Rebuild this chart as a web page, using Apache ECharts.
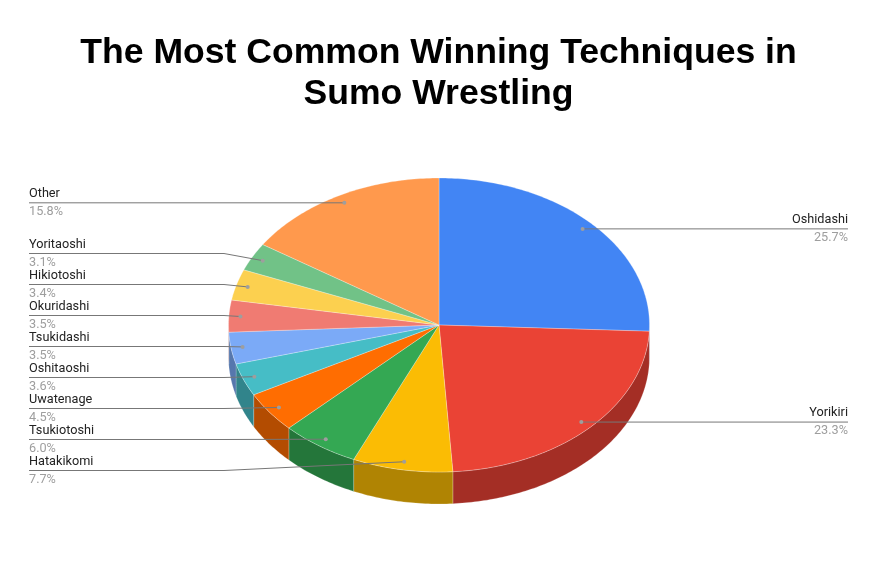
<!DOCTYPE html>
<html><head><meta charset="utf-8">
<script src="https://cdn.jsdelivr.net/npm/echarts@6/dist/echarts.min.js"></script>
<style>html,body{margin:0;padding:0;background:#fff}#c{width:877px;height:581px}</style>
</head><body><div id="c"></div>
<script>
const categories = ['Oshidashi','Yorikiri','Hatakikomi','Tsukiotoshi','Uwatenage','Oshitaoshi','Tsukidashi','Okuridashi','Hikiotoshi','Yoritaoshi','Other'];
const values = [25.7, 23.3, 7.7, 6.0, 4.5, 3.6, 3.5, 3.5, 3.4, 3.1, 15.8];
const colors = ['#4285F4','#EA4335','#FBBC04','#34A853','#FF6D01','#46BDC6','#7BAAF7','#F07B72','#FCD04F','#71C287','#FF994D'];
const sideColors = ['#2E5DAB','#A42E25','#B08403','#24763A','#B34C01','#31848B','#5677AD','#A8564F','#B09137','#4F885F','#B26B36'];
const titleText = 'The Most Common Winning Techniques in\nSumo Wrestling';

const CX = 439, CY = 325, RX = 210.5, RY = 147, DEPTH = 32, DOT_R = 0.945;
const LEFT_X = 29, RIGHT_X = 848, LEFT_ELBOW = 224, RIGHT_ELBOW = 654, GAP = 31;

function pt(theta, r, dy) {
  return [CX + r * RX * Math.sin(theta), CY - r * RY * Math.cos(theta) + (dy || 0)];
}
function arcPts(a0, a1, r, dy) {
  const n = Math.max(2, Math.ceil((a1 - a0) / 0.015));
  const out = [];
  for (let i = 0; i <= n; i++) out.push(pt(a0 + (a1 - a0) * i / n, r, dy));
  return out;
}

// geometry derived from the data
const total = values.reduce((a, b) => a + b, 0);
const slices = [];
let acc = 0;
values.forEach((v, i) => {
  const a0 = acc / total * Math.PI * 2;
  acc += v;
  const a1 = acc / total * Math.PI * 2;
  const mid = (a0 + a1) / 2;
  const dot = pt(mid, DOT_R, 0);
  slices.push({ i, a0, a1, dot, side: dot[0] < CX ? 'left' : 'right', pct: (v / total * 100).toFixed(1) + '%' });
});

// label spreading (clusters centred on their desired positions)
function spread(items) {
  items.sort((a, b) => a.dot[1] - b.dot[1]);
  let groups = items.map(it => ({ items: [it], start: it.dot[1] }));
  let changed = true;
  while (changed) {
    changed = false;
    for (let g = 0; g < groups.length - 1; g++) {
      const A = groups[g], B = groups[g + 1];
      if (A.start + A.items.length * GAP > B.start + 0.01) {
        const its = A.items.concat(B.items);
        const mean = its.reduce((s, it) => s + it.dot[1], 0) / its.length;
        groups.splice(g, 2, { items: its, start: mean - (its.length - 1) * GAP / 2 });
        changed = true;
        break;
      }
    }
  }
  groups.forEach(G => G.items.forEach((it, k) => { it.ly = G.start + k * GAP; }));
}
spread(slices.filter(s => s.side === 'left'));
spread(slices.filter(s => s.side === 'right'));

function renderItem(params, api) {
  const s = slices[params.dataIndex];
  const children = [];
  // side wall (front half only)
  const st = Math.max(s.a0, Math.PI / 2), en = Math.min(s.a1, Math.PI * 1.5);
  if (en > st) {
    const pts = arcPts(st, en, 1, 0).concat(arcPts(st, en, 1, DEPTH).reverse());
    children.push({ type: 'polygon', z2: 1, shape: { points: pts },
      style: { fill: sideColors[s.i], stroke: 'rgba(255,255,255,0.35)', lineWidth: 0.6 } });
  }
  // top face
  children.push({ type: 'polygon', z2: 5, shape: { points: [[CX, CY]].concat(arcPts(s.a0, s.a1, 1, 0)) },
    style: { fill: colors[s.i], stroke: 'rgba(255,255,255,0.45)', lineWidth: 0.6 } });
  // leader line
  const left = s.side === 'left';
  const tx = left ? LEFT_X : RIGHT_X;
  const ex = left ? LEFT_ELBOW : RIGHT_ELBOW;
  children.push({ type: 'polyline', z2: 10, shape: { points: [[tx, s.ly], [ex, s.ly], s.dot] },
    style: { stroke: '#777', lineWidth: 1, fill: null } });
  children.push({ type: 'circle', z2: 11, shape: { cx: s.dot[0], cy: s.dot[1], r: 2 },
    style: { fill: '#9e9e9e' } });
  children.push({ type: 'text', z2: 12, style: { x: tx, y: s.ly - 9, text: categories[s.i],
    fill: '#222', font: '12.7px Roboto', align: left ? 'left' : 'right', verticalAlign: 'middle' } });
  children.push({ type: 'text', z2: 12, style: { x: tx, y: s.ly + 9, text: s.pct,
    fill: '#9e9e9e', font: '12.7px Roboto', align: left ? 'left' : 'right', verticalAlign: 'middle' } });
  return { type: 'group', children };
}

const chart = echarts.init(document.getElementById('c'), null, { renderer: 'canvas' });
chart.setOption({
  backgroundColor: '#fff',
  animation: false,
  title: {
    text: titleText, left: 'center', top: 27,
    textStyle: { fontFamily: 'Liberation Sans', fontWeight: 'bold', fontSize: 35.6, lineHeight: 41.5, color: '#000' }
  },
  series: [{
    type: 'custom',
    coordinateSystem: 'none',
    renderItem,
    data: values.map((v, i) => ({ value: v, name: categories[i] }))
  }]
});
</script>
</body></html>
